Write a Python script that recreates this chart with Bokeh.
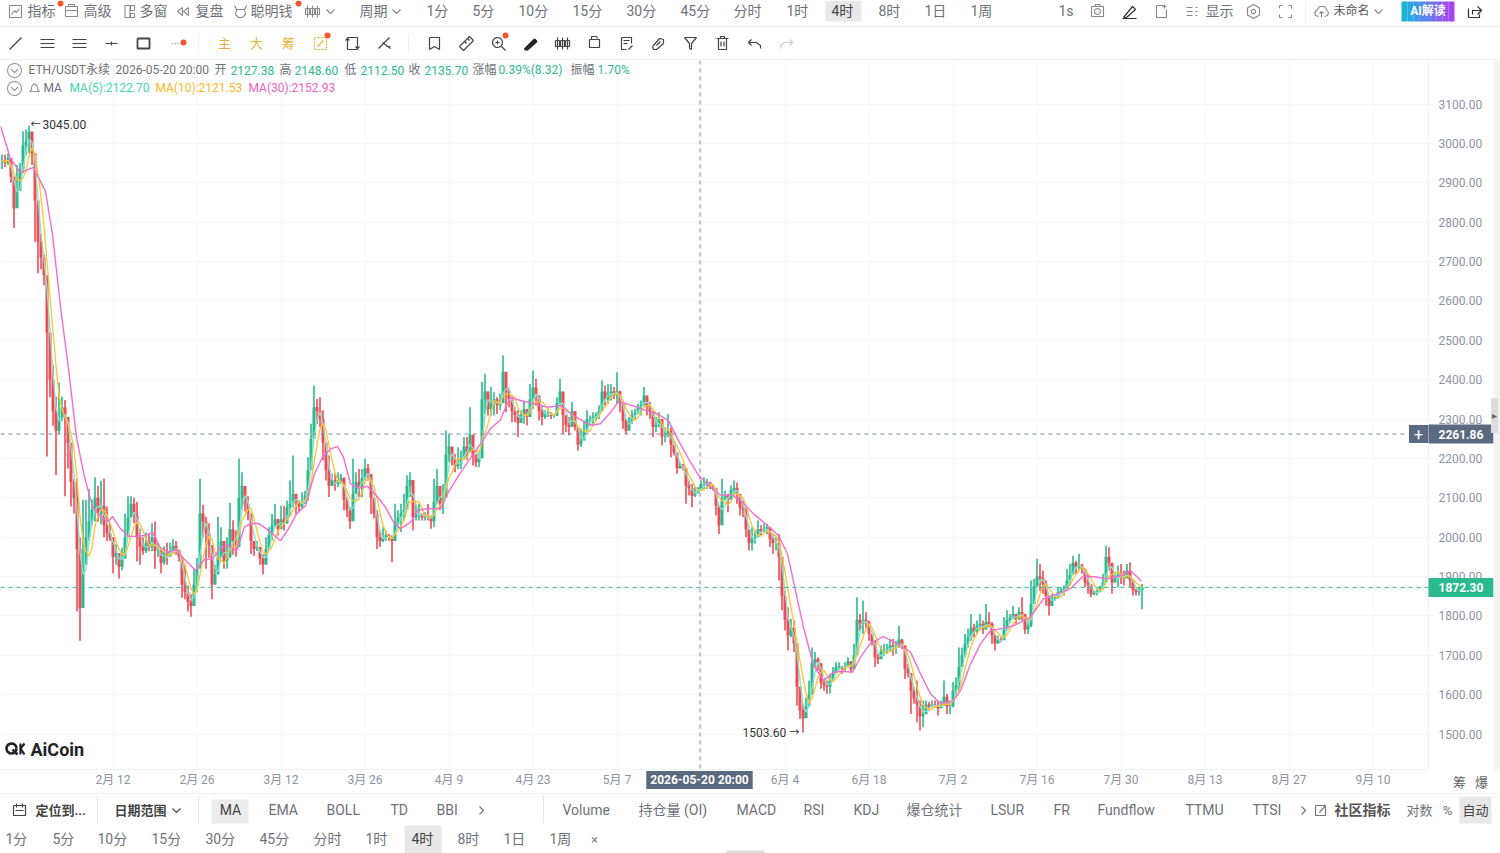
from datetime import datetime
import numpy as np, pandas as pd
from bokeh.plotting import figure
from bokeh.layouts import column
from bokeh.models import Range1d, FixedTicker, Label, NumeralTickFormatter, ColumnDataSource
from bokeh.core.properties import value
from bokeh.embed import file_html
from bokeh.resources import INLINE

# ---------- data: one bar per 12 h ----------
highs = [
2972,2972,2975,2960,2915,2945,2950,3031,3035,3045,
3025,2975,2850,2770,2717,2610,2470,2436,2357,2393,
2357,2348,2297,2196,2148,2148,2000,2095,2095,2122,
2095,2152,2130,2143,2148,2078,2035,2000,1982,1955,
1973,2060,2104,2104,2100,2090,2021,2000,2012,2008,
2035,2040,1986,1973,1977,1986,1986,1995,1990,1968,
1950,1929,1877,1855,1920,1947,2148,2082,2052,2035,
1938,1929,2052,2025,1982,2000,2087,2043,2017,2200,
2165,2122,2104,2050,1990,1990,1975,1957,2000,2025,
2059,2084,2047,2080,2080,2093,2144,2207,2110,2093,
2114,2118,2203,2288,2385,2351,2355,2322,2212,2207,
2161,2161,2165,2161,2152,2102,2076,2199,2165,2173,
2173,2199,2186,2161,2076,2068,2017,2025,2017,2008,
2004,2085,2068,2085,2110,2157,2165,2085,2085,2085,
2059,2063,2084,2055,2148,2173,2122,2135,2271,2262,
2228,2212,2228,2220,2254,2254,2330,2220,2212,2212,
2394,2415,2347,2381,2368,2355,2364,2461,2419,2377,
2355,2330,2322,2322,2343,2326,2389,2423,2402,2339,
2334,2322,2326,2317,2313,2355,2402,2334,2305,2305,
2343,2296,2271,2275,2296,2322,2309,2317,2317,2334,
2398,2385,2389,2389,2381,2419,2372,2326,2300,2305,
2322,2326,2339,2347,2381,2347,2343,2313,2305,2317,
2275,2279,2313,2279,2233,2203,2190,2186,2169,2144,
2135,2127,2127,2144,2152,2148,2139,2135,2118,2080,
2148,2118,2110,2131,2144,2139,2102,2093,2076,2000,
2025,2017,2042,2030,2034,2034,2017,2008,2000,2008,
1890,1864,1822,1792,1788,1691,1610,1577,1593,1636,
1720,1708,1695,1644,1640,1636,1653,1670,1682,1682,
1670,1682,1695,1674,1729,1847,1805,1839,1809,1788,
1754,1737,1703,1725,1729,1729,1741,1741,1737,1775,
1741,1695,1678,1653,1619,1636,1585,1585,1585,1581,
1585,1585,1585,1585,1636,1602,1585,1632,1644,1720,
1720,1754,1767,1805,1780,1788,1805,1788,1830,1809,
1784,1754,1750,1746,1797,1814,1805,1826,1805,1822,
1847,1780,1788,1890,1894,1945,1932,1915,1890,1852,
1856,1852,1873,1873,1877,1919,1932,1953,1940,1957,
1932,1919,1907,1873,1864,1869,1877,1907,1979,1974,
1928,1911,1928,1932,1915,1932,1936,1890,1869,1873,1881]
lows = [
2935,2940,2945,2900,2785,2850,2880,2925,2970,2975,
2945,2750,2670,2680,2640,2205,2355,2283,2157,2262,
2295,2104,2174,2078,2060,1811,1737,1860,1955,1990,
2030,2040,2040,2033,2000,1990,1990,1908,1930,1895,
1915,1947,2008,2052,2035,1938,1930,1955,1960,1965,
1965,1920,1950,1908,1930,1930,1955,1960,1955,1938,
1846,1842,1811,1798,1842,1860,2000,2000,1920,1947,
1842,1880,1930,1947,1920,1920,1947,1955,1950,2000,
2069,2065,2043,1957,1953,1965,1930,1906,1949,1987,
1991,2025,2004,2025,2017,2034,2051,2076,2059,2063,
2072,2085,2093,2186,2254,2288,2279,2195,2144,2102,
2131,2118,2127,2135,2068,2051,2021,2068,2118,2102,
2102,2144,2144,2059,2047,1970,1975,1987,1991,1991,
1936,2000,2025,2013,2042,2085,2102,2017,2042,2042,
2042,2042,2042,2021,2025,2085,2068,2059,2135,2190,
2182,2165,2173,2173,2203,2195,2220,2182,2178,2178,
2245,2313,2309,2309,2309,2313,2322,2372,2317,2330,
2292,2292,2254,2296,2288,2284,2309,2326,2334,2296,
2284,2300,2305,2300,2303,2309,2334,2262,2267,2258,
2288,2271,2220,2229,2250,2271,2284,2288,2296,2300,
2326,2334,2339,2347,2351,2339,2317,2275,2262,2279,
2288,2300,2313,2309,2334,2309,2300,2254,2267,2279,
2233,2241,2254,2203,2207,2161,2173,2169,2085,2106,
2076,2102,2110,2118,2122,2122,2122,2118,2055,2008,
2068,2093,2063,2102,2106,2085,2055,2051,2000,1966,
1966,1983,2000,2004,2013,2008,1975,1958,1966,1890,
1814,1763,1712,1746,1708,1572,1538,1503.6,1555,1585,
1610,1670,1661,1615,1610,1602,1602,1636,1657,1661,
1653,1657,1670,1657,1670,1729,1763,1754,1767,1737,
1725,1670,1678,1695,1699,1703,1708,1699,1703,1720,
1716,1640,1644,1551,1577,1530,1509,1517,1568,1560,
1568,1568,1547,1568,1572,1551,1551,1568,1593,1610,
1678,1695,1720,1737,1746,1754,1763,1754,1767,1771,
1729,1712,1729,1733,1742,1771,1784,1792,1780,1797,
1788,1754,1754,1771,1847,1873,1864,1856,1826,1801,
1835,1839,1843,1856,1852,1869,1877,1911,1907,1915,
1907,1873,1856,1847,1852,1852,1860,1869,1919,1915,
1856,1885,1873,1881,1877,1902,1873,1852,1852,1852,1817]
closes = [
2957,2950,2963,2915,2835,2880,2935,2995,3005,3030,
2975,2855,2750,2710,2665,2520,2400,2320,2270,2300,
2330,2305,2240,2140,2100,1970,1820,1930,2000,2040,
2070,2100,2060,2080,2030,2010,2000,1950,1960,1925,
1945,2000,2050,2085,2055,2000,1975,1965,1985,1975,
2000,1965,1965,1935,1960,1950,1965,1978,1968,1950,
1880,1860,1835,1825,1880,1920,2060,2040,2010,1980,
1880,1905,1950,1990,1940,1950,2020,1990,1975,2100,
2130,2085,2060,1990,1970,1975,1945,1930,1970,2005,
2030,2045,2020,2045,2035,2075,2085,2110,2090,2078,
2085,2105,2170,2250,2330,2320,2300,2240,2170,2130,
2145,2135,2140,2150,2095,2070,2040,2110,2140,2125,
2150,2175,2160,2100,2060,2000,1990,2000,2005,2000,
1990,2040,2050,2060,2070,2130,2145,2050,2060,2060,
2050,2052,2050,2040,2090,2130,2085,2100,2210,2230,
2195,2180,2185,2200,2230,2215,2260,2205,2190,2200,
2350,2370,2325,2340,2350,2335,2340,2420,2370,2350,
2320,2310,2290,2310,2325,2305,2350,2380,2360,2320,
2305,2315,2315,2308,2308,2340,2370,2310,2285,2280,
2320,2280,2235,2245,2270,2300,2300,2305,2310,2320,
2370,2350,2365,2370,2360,2370,2340,2295,2270,2295,
2310,2315,2330,2335,2360,2330,2320,2280,2285,2300,
2255,2255,2270,2235,2215,2175,2180,2175,2130,2125,
2105,2110,2118,2135,2135,2140,2130,2125,2080,2030,
2100,2105,2095,2120,2125,2110,2075,2070,2020,1985,
1995,2000,2020,2015,2020,2025,1995,1985,1985,1950,
1850,1790,1750,1770,1730,1620,1560,1540,1570,1600,
1680,1690,1680,1630,1625,1620,1635,1655,1670,1672,
1665,1670,1685,1665,1700,1790,1780,1790,1785,1755,
1735,1695,1690,1710,1712,1715,1725,1720,1720,1740,
1725,1665,1655,1610,1590,1575,1545,1550,1575,1570,
1575,1572,1565,1575,1595,1570,1570,1610,1625,1670,
1700,1730,1745,1770,1760,1775,1780,1765,1785,1780,
1750,1730,1740,1738,1765,1790,1795,1805,1790,1810,
1805,1765,1775,1830,1875,1900,1895,1880,1850,1825,
1845,1848,1860,1865,1870,1890,1905,1935,1925,1930,
1920,1885,1880,1855,1858,1862,1870,1885,1950,1935,
1885,1895,1905,1900,1895,1915,1890,1865,1860,1865,1872.3]

# MA(30): position in 4h bars from the left edge, and price
ma30_bar = [0,10,20,33,45,52,60,68,76,84,92,100,108,112,120,128,136,144,152,160,168,176,184,195,204,212,220,228,236,244,
250,258,266,274,280,288,296,305,314,322,330,337,343,350,358,367,377,385,393,400,410,418,427,440,447,457,467,480,490,
500,505,510,520,533,547,560,573,590,600,610,618,632,645,657,668,678,688,698,710,720,732,743,753,765,778,787,795,803,
813,823,833,843,852,860,870,883,897,910,920,930,940,952,960,970,980,990,1000,1013,1030,1043,1057,1070,1083,1097,1107,1120,1130,1141]
ma30_val = [3044,2961,2926,2939,2878,2769,2585,2428,2253,2152,2078,2052,2039,2052,2021,2002,2002,2004,2012,1973,1962,1969,1943,1916,1943,1944,1973,1980,1964,2026,
2034,2035,2021,2004,1991,2021,2059,2080,2161,2203,2224,2230,2203,2135,2124,2129,2102,2076,2038,2021,2038,2069,2072,2072,2110,2152,2190,2237,2275,
2298,2330,2355,2347,2339,2330,2334,2309,2284,2288,2317,2344,2334,2322,2313,2296,2245,2199,2157,2127,2107,2106,2086,2059,2034,2004,1957,1864,1771,
1674,1636,1657,1659,1657,1695,1731,1747,1729,1708,1653,1602,1577,1583,1610,1678,1729,1763,1767,1775,1797,1843,1856,1869,1902,1898,1894,1902,1915,1888]

price_ticks = [1500,1600,1700,1800,1900,2000,2100,2200,2300,2400,2500,2600,2700,2800,2900,3000,3100]
date_ticks = [(2,12),(2,26),(3,12),(3,26),(4,9),(4,23),(5,7),(5,21),(6,4),(6,18),(7,2),(7,16),(7,30),(8,13),(8,27),(9,10)]
LAST_PRICE, CROSS_PRICE = 1872.30, 2261.86

FONT = "Roboto, Noto Sans CJK SC"
GREEN, RED = "#2bb98f", "#ee4b55"
C_TXT, C_AX, C_SLATE = "#6d727a", "#8c93a3", "#5b6a80"
T0 = datetime(2026, 2, 12)
HOURS_LEFT = 450          # hours between the left edge and 2月 12

def hr(px): return px * 4.0
def pr(py): return 3100 - (py - 103.5) * 1600.0 / 630.0

# ---------- main chart: the frame fills the figure; the axes sit inside it at a fixed location ----------
t = np.arange(len(closes)) * 12 + 6
close = np.array(closes, float)
opens = np.r_[close[0], close[:-1]]
color = [GREEN if c >= o else RED for o, c in zip(opens, close)]
src = ColumnDataSource(dict(t=t, h=highs, l=lows, o=opens, c=close, color=color))

p = figure(width=1500, height=733, x_range=Range1d(0, hr(1500)), y_range=Range1d(pr(793), pr(60)),
           toolbar_location=None, output_backend="svg", y_axis_location="right", frame_align=False,
           min_border=0, outline_line_color=None)
# white margins hide the grid beyond the plotting area
p.quad(left=[hr(1433), 0], right=[hr(1500), hr(1500)], bottom=[pr(793), pr(793)], top=[pr(60), pr(769)], fill_color="#ffffff", line_color=None)
p.quad(left=[hr(1493)], right=[hr(1500)], bottom=[pr(770)], top=[pr(60)], fill_color="#f3f3f3", line_color=None)

p.segment("t", "h", "t", "l", color="color", line_width=1.6, source=src)
p.vbar("t", width=12, top="o", bottom="c", fill_color="color", line_color=None, source=src)
p.line(t, pd.Series(close).rolling(3, min_periods=1).mean(), color="#86e3cd", line_width=1.3, line_join="round")
p.line(t, pd.Series(close).rolling(5, min_periods=1).mean(), color="#ffc233", line_width=1.3, line_join="round")
p.line(np.array(ma30_bar) * 4.0, ma30_val, color="#f26fd0", line_width=1.4, line_join="round")

tick_h = [((datetime(2026, m, d) - T0).days * 24 + HOURS_LEFT) for m, d in date_ticks]
p.xaxis.ticker = FixedTicker(ticks=tick_h)
p.xaxis.major_label_overrides = {h: f"{m}月 {d}" for h, (m, d) in zip(tick_h, date_ticks)}
p.yaxis.ticker = FixedTicker(ticks=price_ticks)
p.yaxis.formatter = NumeralTickFormatter(format="0.00")
for ax in (p.xaxis[0], p.yaxis[0]):
    ax.axis_line_color = "#f0f1f3"
    ax.major_tick_line_color = "#f3f4f5"
    ax.minor_tick_line_color = None
    ax.major_tick_in = 0
    ax.major_label_text_color = C_AX
    ax.major_label_text_font = FONT
    ax.major_label_text_font_size = "12px"
p.xaxis.fixed_location = pr(768.5)
p.yaxis.fixed_location = hr(1428)
p.xaxis.bounds = (0, hr(1428))
p.yaxis.bounds = (pr(768.5), pr(60))
p.yaxis.major_tick_out = 5
p.yaxis.major_label_standoff = 5
p.xaxis.major_tick_out = 2
p.xaxis.major_label_standoff = 2
p.grid.grid_line_color = "#f6f7f8"

p.line([0, hr(1428)], [LAST_PRICE, LAST_PRICE], color=GREEN, line_dash="4 4", line_width=1)
p.line([0, hr(1408)], [CROSS_PRICE, CROSS_PRICE], color="#7d8699", line_dash="4 4", line_width=1)
p.line([hr(699.5), hr(699.5)], [pr(768), pr(60)], color="#7d8699", line_dash="4 4", line_width=1)

def L(px, py, s, color=C_TXT, size=12, bold=False, align="left", **kw):
    p.add_layout(Label(x=px, y=py - 60, x_units="canvas", y_units="canvas", text=s, text_color=color, level="overlay",
                       text_font_size=f"{size}px", text_font=FONT,
                       text_font_style="bold" if bold else "normal", text_align=align, text_baseline="middle", **kw))

INFO = [(28,"ETH/USDT永续",C_TXT),(115,"2026-05-20 20:00",C_TXT),(214,"开",C_TXT),(230,"2127.38",GREEN),(279,"高",C_TXT),
        (294,"2148.60",GREEN),(344,"低",C_TXT),(360,"2112.50",GREEN),(408,"收",C_TXT),(424,"2135.70",GREEN),(472,"涨幅",C_TXT),
        (498,"0.39%(8.32)",GREEN),(570,"振幅",C_TXT),(597,"1.70%",GREEN)]
for x, s, c in INFO: L(x, 69.5, s, c)
L(43, 87.5, "MA"); L(69, 87.5, "MA(5):2122.70", "#45d3b0"); L(155, 87.5, "MA(10):2121.53", "#ffb81f"); L(248, 87.5, "MA(30):2152.93", "#ef5fc4")
L(30, 123.5, "←", "#333333", 10); L(42, 123.5, "3045.00", "#333333")
L(742, 731.5, "1503.60", "#333333"); L(789, 731.5, "→", "#333333", 10)
L(30, 749, "AiCoin", "#222222", 18, True)

L(1428, 587, "1872.30", "#ffffff", 12, True, background_fill_color=GREEN, padding=(10, 5))
L(1428, 433.5, "2261.86", "#ffffff", 12, True, background_fill_color=C_SLATE, padding=(10, 5))
L(1418, 433.5, "+", "#ffffff", 16, False, "center", background_fill_color=C_SLATE, padding=(5, 3))
L(699, 779.5, "2026-05-20 20:00", "#ffffff", 12, True, "center", background_fill_color=C_SLATE, padding=(4, 2))
L(1459, 782, "筹", "#666666", 13, False, "center"); L(1481, 782, "爆", "#666666", 13, False, "center")
L(1494, 415, "▸", "#666666", 10, False, "center", background_fill_color="#dcdcdc", padding=(1, 12))

def main_poly(px, py, pts, color="#999999", lw=1.1):
    p.line([hr(px + a) for a, b in pts], [pr(py + b) for a, b in pts], color=color, line_width=lw)
CIRC = [(7*np.cos(a), 7*np.sin(a)) for a in np.linspace(0, 6.3, 24)]
CHEV = [(-3.5, -1.5), (0, 2), (3.5, -1.5)]
for yy in (70, 88):
    main_poly(14, yy, CIRC); main_poly(14, yy, CHEV)
main_poly(34, 88, [(-5,3),(-3,1),(-3,-2),(0,-5),(3,-2),(3,1),(5,3),(-5,3)])
main_poly(11, 748, [(5*np.cos(a), 5*np.sin(a)) for a in np.linspace(0, 6.3, 18)], "#222222", 2.6)
main_poly(11, 748, [(1,1),(6,6)], "#222222", 2.6)
main_poly(20, 748, [(0,-5),(0,6)], "#222222", 2.2); main_poly(20, 748, [(4,-5),(0,0),(4,6)], "#222222", 2.2)

# ---------- bars above and below ----------
def bar(h, y0, y1):
    f = figure(width=1500, height=h, x_range=Range1d(0, 1500), y_range=Range1d(y1, y0), toolbar_location=None, frame_align=False,
               output_backend="svg", x_axis_type=None, y_axis_type=None, min_border=0, outline_line_color=None)
    f.grid.visible = False
    return f

def txt(f, x, y, s, color=C_TXT, size=14, bold=False, align="left"):
    f.text([x], [y], text=[s], text_color=color, text_font=value(FONT), text_font_size=f"{size}px",
           text_font_style="bold" if bold else "normal", text_align=align, text_baseline="middle")

def poly(f, cx, cy, shapes, color="#666666", lw=1.2):
    f.multi_line([[cx + a for a, b in s] for s in shapes], [[cy + b for a, b in s] for s in shapes], color=color, line_width=lw)

def box(w=6, h=5): return [(-w,-h),(w,-h),(w,h),(-w,h),(-w,-h)]
ICONS = {
 "diag":[[(-6,6),(6,-6)]], "bars3":[[(-7,-4),(7,-4)],[(-7,0),(7,0)],[(-7,4),(7,4)]],
 "cross":[[(-6,0),(6,0)],[(0,-2),(0,2)]], "rect":[box()], "dots":[[(-6,0),(-5,0)],[(-3,0),(-2,0)],[(0,0),(1,0)]],
 "swap":[box(5,6),[(-7,-3),(-5,-5),(-3,-3)],[(3,3),(5,5),(7,3)]], "sciss":[[(-6,5),(5,-6)],[(-2,-1),(6,5)],[(2,3),(6,3)]],
 "mark":[[(-5,-6),(5,-6),(5,6),(0,3),(-5,6),(-5,-6)]], "ruler":[[(-7,3),(3,-7),(7,-3),(-3,7),(-7,3)],[(-2,-2),(0,0)],[(1,-5),(3,-3)]],
 "zoom":[[(5*np.cos(a)-1,5*np.sin(a)-1) for a in np.linspace(0,6.3,16)],[(3,3),(7,7)],[(-3,-1),(1,-1)],[(-1,-3),(-1,1)]],
 "pen":[[(-6,6),(4,-4),(6,-2),(-3,6),(-6,6)],[(-4,4),(5,-3)],[(-2,3),(5,-4)]],
 "cand":[[(-5,-6),(-5,6)],[(0,-6),(0,6)],[(5,-6),(5,6)],box(2,3),[(-7,-3),(-3,-3),(-3,3),(-7,3),(-7,-3)],[(3,-3),(7,-3),(7,3),(3,3),(3,-3)]],
 "lock":[box(5,4)[:],[(-3,-4),(-3,-7),(2,-7),(3,-5)]], "doc":[[(5,0),(5,-6),(-5,-6),(-5,6),(0,6)],[(-3,-3),(3,-3)],[(-3,0),(1,0)],[(2,6),(6,2)]],
 "loop":[[(-6,3),(1,-5),(5,-4),(5,0),(-2,6),(-5,6),(-6,3)],[(-2,2),(2,-2)]], "funnel":[[(-6,-6),(6,-6),(1,0),(1,6),(-1,5),(-1,0),(-6,-6)]],
 "trash":[[(-6,-5),(6,-5)],[(-4,-5),(-4,6),(4,6),(4,-5)],[(-2,-5),(-2,-7),(2,-7),(2,-5)],[(-1.5,-2),(-1.5,3)],[(1.5,-2),(1.5,3)]],
 "undo":[[(-6,-1),(-3,-4)],[(-6,-1),(-3,2)],[(-6,-1),(2,-1),(6,2),(6,5)]], "redo":[[(6,-1),(3,-4)],[(6,-1),(3,2)],[(6,-1),(-2,-1),(-6,2),(-6,5)]],
 "chart":[box(6,6),[(-4,3),(-1,-1),(1,1),(4,-3)]], "pad":[box(6,5),[(-6,-1),(6,-1)],[(-3,-5),(-3,-7),(3,-7),(3,-5)]],
 "cols":[box(2.5,6),[(3,-6),(7,-6),(7,-1),(3,-1),(3,-6)],[(3,2),(7,2),(7,6),(3,6),(3,2)]],
 "back":[[(-1,-4),(-6,0),(-1,4),(-1,-4)],[(5,-4),(0,0),(5,4),(5,-4)]], "bird":[[(-6,-6),(-4,-2),(4,-2),(6,-6)],[(-4,-2),(-5,3),(-2,6),(2,6),(5,3),(4,-2)]],
 "chev":[[(-4,-2),(0,2),(4,-2)]], "cam":[box(6,5),[(-3,-5),(-2,-7),(2,-7),(3,-5)],[(3*np.cos(a),3*np.sin(a)) for a in np.linspace(0,6.3,14)]],
 "pencil":[[(-6,6),(3,-5),(6,-2),(-3,6),(-6,6)],[(-7,7),(7,7)]], "docp":[[(2,-6),(-5,-6),(-5,6),(5,6),(5,-2)],[(3,-7),(3,-3)],[(1,-5),(5,-5)]],
 "menu":[[(-6,-4),(0,-4)],[(-6,0),(0,0)],[(-6,4),(0,4)],[(3,-4),(5,-4)],[(3,0),(5,0)],[(3,4),(5,4)]],
 "hex":[[(0,-7),(6,-3.5),(6,3.5),(0,7),(-6,3.5),(-6,-3.5),(0,-7)],[(2.2*np.cos(a),2.2*np.sin(a)) for a in np.linspace(0,6.3,12)]],
 "full":[[(-6,-3),(-6,-6),(-3,-6)],[(3,-6),(6,-6),(6,-3)],[(-6,3),(-6,6),(-3,6)],[(3,6),(6,6),(6,3)]],
 "cloud":[[(-3,5),(-6,4),(-7,1),(-4,-2),(-2,-5),(3,-5),(5,-2),(7,1),(6,4),(3,5)],[(0,6),(0,0),(-2,2)],[(0,0),(2,2)]],
 "share":[[(-6,-3),(-6,6),(5,6),(5,3)],[(-2,3),(-2,-1),(7,-1)],[(3,-5),(7,-1),(3,3)]],
 "cal":[box(6,5),[(-3,-7),(-3,-3)],[(3,-7),(3,-3)],[(-4,0),(4,0)]], "edit":[box(5,5),[(-1,2),(5,-5)]],
 "right":[[(-2,-4),(2,0),(-2,4)]],
}

h = bar(60, 0, 60)
h.quad(left=[825], right=[861], top=[0], bottom=[21], fill_color="#e8e8e8", line_color=None)
grad = ["#19b5d8","#2aa8e0","#3c9ae6","#4f8cea","#6180ee","#7570f0","#8860f0","#9a50f0","#a544f0"]
edges = np.linspace(1401, 1454, len(grad) + 1)
h.quad(left=edges[:-1], right=edges[1:], top=1, bottom=21, fill_color=grad, line_color=None)
h.multi_line([[0,1500],[0,1500],[1305,1305],[198,198],[408,408]], [[26,26],[59,59],[0,26],[33,53],[33,53]], color="#f0f0f0", line_width=1)

ROW1 = [(27,"指标"),(83,"高级"),(139,"多窗"),(195,"复盘"),(250,"聪明钱"),(359,"周期"),(426,"1分"),(472,"5分"),(518,"10分"),(572,"15分"),
        (626,"30分"),(680,"45分"),(733,"分时"),(786,"1时"),(878,"8时"),(924,"1日"),(970,"1周"),(1058,"1s"),(1205,"显示")]
for x, s in ROW1: txt(h, x, 10.5, s)
txt(h, 831, 10.5, "4时", "#444444")
txt(h, 1333, 10.5, "未命名", "#555555", 12)
txt(h, 1427.5, 10.5, "AI解读", "#ffffff", 12, True, "center")
for x, n in [(15,"chart"),(71,"pad"),(127,"cols"),(183,"back"),(240,"bird"),(312,"cand"),(330,"chev"),(396,"chev"),(1097,"cam"),(1161,"docp"),(1192,"menu"),(1253,"hex"),(1285,"full"),(1321,"cloud"),(1378,"chev")]:
    poly(h, x, 11, ICONS[n], "#888888", 1.1)
poly(h, 1129, 11, ICONS["pencil"], "#333333"); poly(h, 1474, 11, ICONS["share"], "#333333")
h.scatter([60, 298, 183, 327, 505], [3, 3, 42, 35, 35], size=6, color="#f4552c", line_color=None)
for x, n in [(15,"diag"),(47,"bars3"),(79,"bars3"),(111,"cross"),(352,"swap"),(384,"sciss"),(434,"mark"),(466,"ruler"),(498,"zoom"),(562,"cand"),(594,"lock"),(626,"doc"),(658,"loop"),(690,"funnel"),(722,"trash"),(754,"undo")]:
    poly(h, x, 43, ICONS[n], "#444444", 1.2)
poly(h, 143, 43, ICONS["rect"], "#444444", 1.8); poly(h, 177, 43, ICONS["dots"], "#888888", 1.4)
poly(h, 530, 43, ICONS["pen"], "#222222", 2); poly(h, 786, 43, ICONS["redo"], "#cccccc", 1.2)
for x, s in [(224,"主"),(256,"大"),(288,"筹")]: txt(h, x, 43, s, "#e2b33c", 13, False, "center")
h.line([314,326,326,314,314], [37,37,49,49,37], color="#e2b33c", line_width=1.2, line_dash="2 1")
h.line([317,323], [46,40], color="#e2b33c", line_width=1.2)

f = bar(60, 793, 853)
f.quad(left=[211,1459,404,726], right=[248,1491,441,764], top=[799,796,825,850], bottom=[823,823,853,853], fill_color=["#ececec","#e8e8e8","#e8e8e8","#dddddd"], line_color=None)
f.multi_line([[0,1500],[97,97],[198,198],[543,543]], [[793,793],[795,823],[795,823],[795,823]], color="#e6e6e6", line_width=1)
poly(f, 19, 810, ICONS["cal"], "#444444"); poly(f, 176, 810, ICONS["chev"], "#555555"); poly(f, 481, 810, ICONS["right"], "#777777")
poly(f, 1303, 810, ICONS["right"], "#777777"); poly(f, 1320, 810, ICONS["edit"], "#777777")
txt(f, 35, 809.5, "定位到...", "#444444", 13, True); txt(f, 114, 809.5, "日期范围", "#444444", 13, True)
txt(f, 1334, 809.5, "社区指标", "#555555", 14, True)
for x, s in [(230,"MA")]: txt(f, x, 809.5, s, "#444444", 14, False, "center")
for x, s in [(268,"EMA"),(326,"BOLL"),(390,"TD"),(436,"BBI"),(562,"Volume"),(638,"持仓量 (OI)"),(736,"MACD"),(803,"RSI"),(853,"KDJ"),(906,"爆仓统计"),(990,"LSUR"),(1053,"FR"),(1097,"Fundflow"),(1185,"TTMU"),(1252,"TTSI")]:
    txt(f, x, 809.5, s)
txt(f, 1406, 809.5, "对数", C_TXT, 13); txt(f, 1447, 809.5, "%", C_TXT, 13, False, "center"); txt(f, 1475, 809.5, "自动", "#444444", 13, False, "center")
for x, s in [(5,"1分"),(52,"5分"),(97,"10分"),(151,"15分"),(205,"30分"),(259,"45分"),(313,"分时"),(365,"1时"),(457,"8时"),(503,"1日"),(549,"1周")]:
    txt(f, x, 838.5, s)
txt(f, 411, 838.5, "4时", "#444444"); txt(f, 594, 838.5, "×", "#888888", 13, False, "center")

page = column(h, p, f, spacing=0)
open("out.html", "w").write(file_html(page, INLINE))
